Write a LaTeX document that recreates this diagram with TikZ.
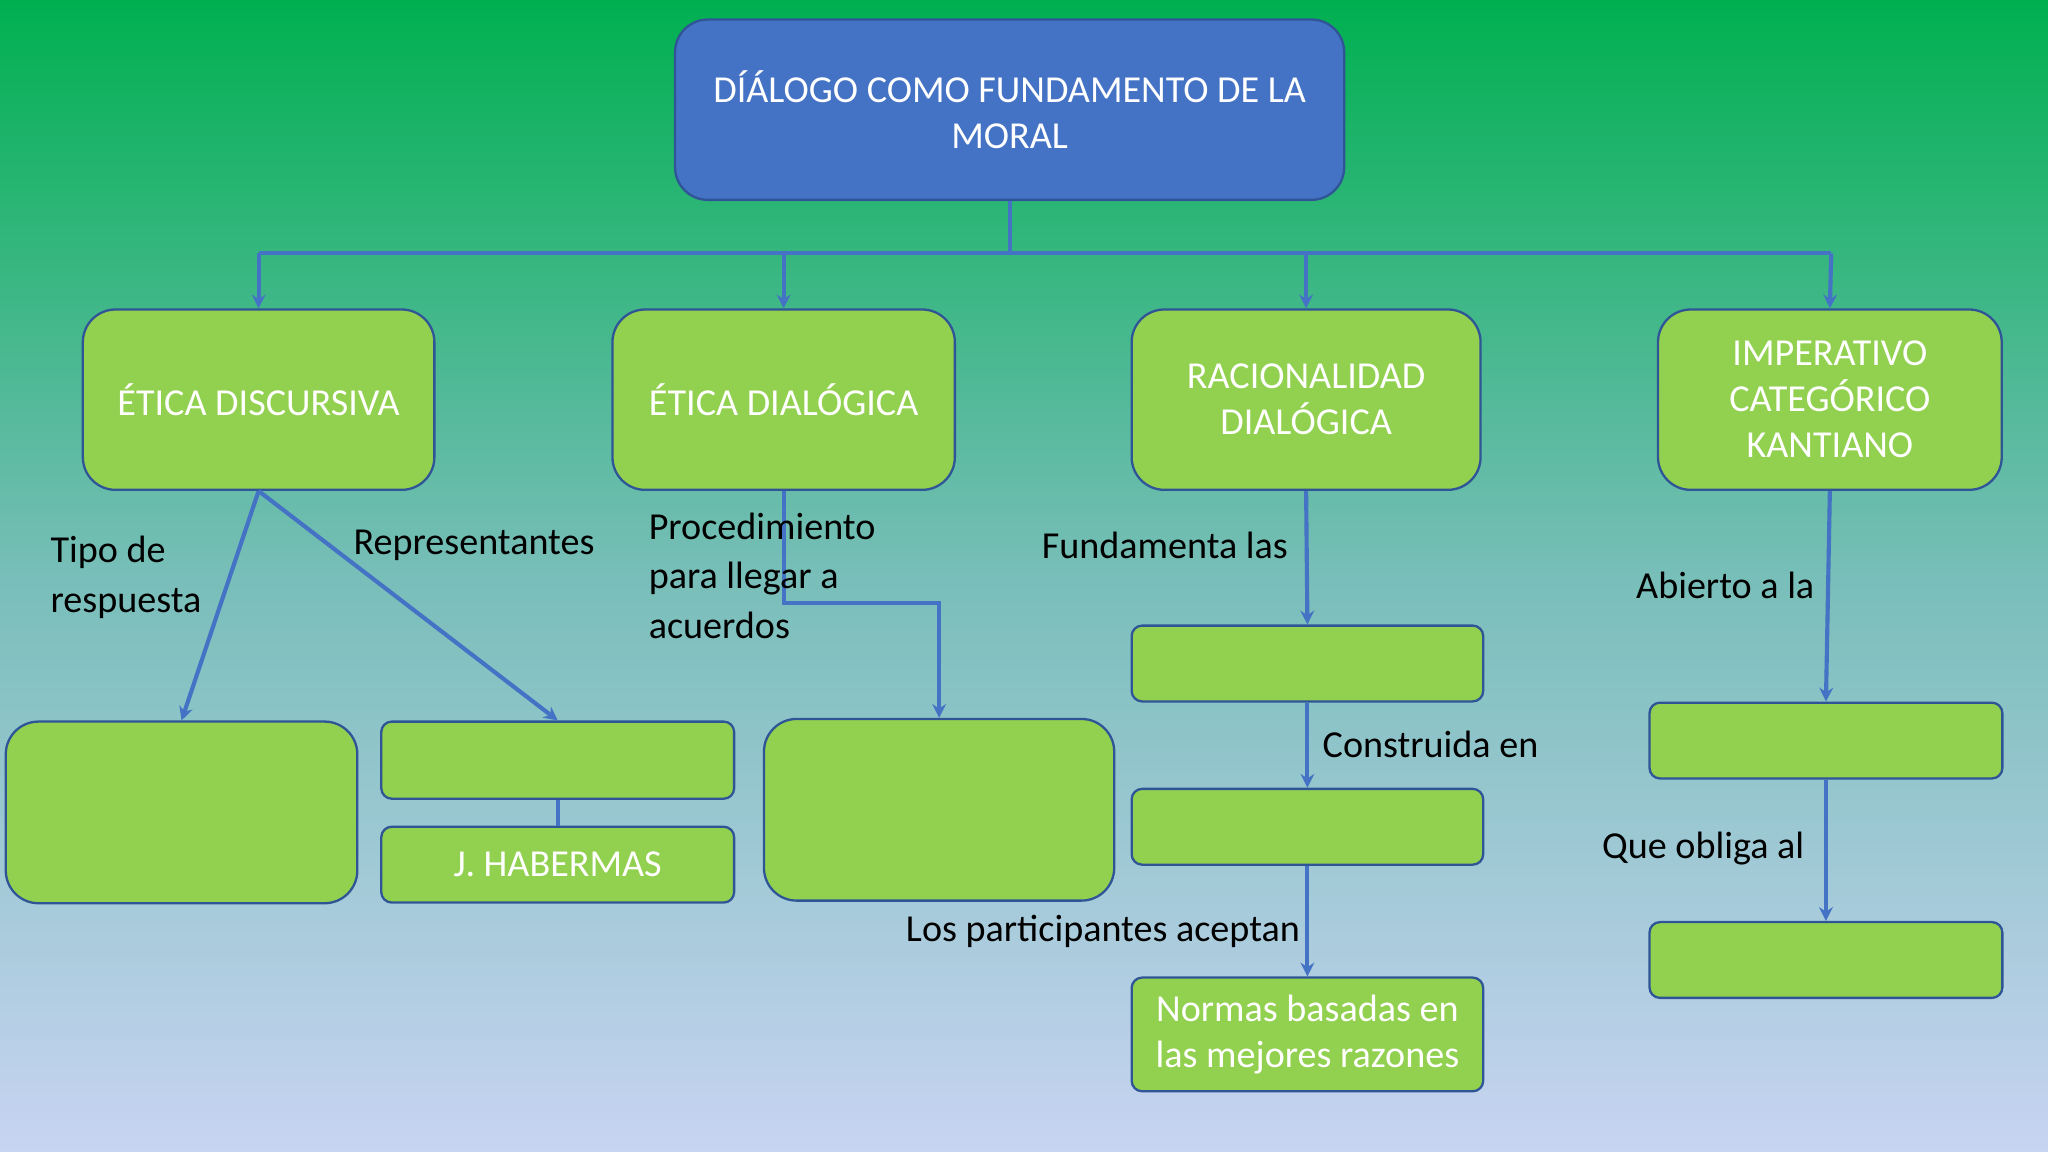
\documentclass[tikz,border=0pt]{standalone}
\usepackage{fontspec}
\setmainfont{Carlito}
\usetikzlibrary{arrows.meta}
\definecolor{gfill}{RGB}{146,208,80}
\definecolor{bfill}{RGB}{68,114,196}
\definecolor{edge}{RGB}{47,85,151}
\definecolor{ln}{RGB}{68,114,196}
\begin{document}
\begin{tikzpicture}[x=0.01cm,y=-0.01cm,
 gbox/.style={draw=edge,line width=0.5pt,fill=gfill,rounded corners=2.5mm,text=white,align=center,font=\fontsize{8.3}{10}\selectfont,inner sep=0pt},
 sbox/.style={gbox,rounded corners=0.8mm},
 lab/.style={font=\fontsize{8.3}{10.8}\selectfont,align=left,anchor=north west,inner sep=0pt},
 con/.style={draw=ln,line width=0.9pt},
 arr/.style={con,-{Stealth[length=3pt,width=3pt]}}]
\shade[top color={rgb,255:red,0;green,176;blue,80},bottom color={rgb,255:red,200;green,212;blue,242},middle color={rgb,255:red,120;green,190;blue,185}] (0,0) rectangle (1568,882);
\useasboundingbox (0,0) rectangle (1568,882);
\node[gbox,fill=bfill,minimum width=5.12cm,minimum height=1.38cm] (T) at (773,84) {DÍÁLOGO COMO FUNDAMENTO DE LA\\MORAL};
\node[gbox,minimum width=2.69cm,minimum height=1.38cm] (A) at (198,306) {ÉTICA DISCURSIVA};
\node[gbox,minimum width=2.62cm,minimum height=1.38cm] (B) at (600,306) {ÉTICA DIALÓGICA};
\node[gbox,minimum width=2.67cm,minimum height=1.38cm] (C) at (1000,306) {RACIONALIDAD\\DIALÓGICA};
\node[gbox,minimum width=2.63cm,minimum height=1.38cm] (D) at (1401,306) {IMPERATIVO\\CATEGÓRICO\\KANTIANO};
\node[gbox,minimum width=2.69cm,minimum height=1.39cm] (A1) at (139,622) {};
\node[sbox,minimum width=2.70cm,minimum height=0.59cm] (A2) at (427,582) {};
\node[sbox,minimum width=2.70cm,minimum height=0.58cm] (A3) at (427,662) {J. HABERMAS};
\node[gbox,minimum width=2.68cm,minimum height=1.39cm] (B1) at (719,620) {};
\node[sbox,minimum width=2.69cm,minimum height=0.58cm] (C1) at (1001,508) {};
\node[sbox,minimum width=2.69cm,minimum height=0.58cm] (C2) at (1001,633) {};
\node[sbox,minimum width=2.69cm,minimum height=0.87cm] (C3) at (1001,792) {Normas basadas en\\las mejores razones};
\node[sbox,minimum width=2.70cm,minimum height=0.58cm] (D1) at (1398,567) {};
\node[sbox,minimum width=2.70cm,minimum height=0.58cm] (D2) at (1398,735) {};
\coordinate (bus) at (773,194);
\draw[con] (T.south) -- (bus);
\draw[con] (198,194) -- (1402,194);
\foreach \n/\x in {A/198,B/600,C/1000,D/1402} \draw[arr] (\x,194) -- (\n.north);
\draw[arr] (A.south) -- (A1.north);
\draw[arr] (A.south) -- (A2.north);
\draw[con] (A2.south) -- (A3.north);
\draw[arr] (B.south) |- (719,462) -- (B1.north);
\draw[arr] (C.south) -- (C1.north);
\draw[arr] (C1.south) -- (C2.north);
\draw[arr] (C2.south) -- (C3.north);
\draw[arr] (D.south) -- (D1.north);
\draw[arr] (D1.south) -- (D2.north);
\node[lab] (l1) at (38,410) {Tipo de\\respuesta};
\node[lab] (l2) at (270,405) {Representantes};
\node[lab] (l3) at (496,392) {Procedimiento\\para llegar a\\acuerdos};
\node[lab] (l4) at (797,407) {Fundamenta las};
\node[lab] (l5) at (1012,559) {Construida en};
\node[lab,anchor=north east] (l6) at (996,700) {Los participantes aceptan};
\node[lab] (l7) at (1252,437) {Abierto a la};
\node[lab] (l8) at (1226,636) {Que obliga al};
\end{tikzpicture}
\end{document}
